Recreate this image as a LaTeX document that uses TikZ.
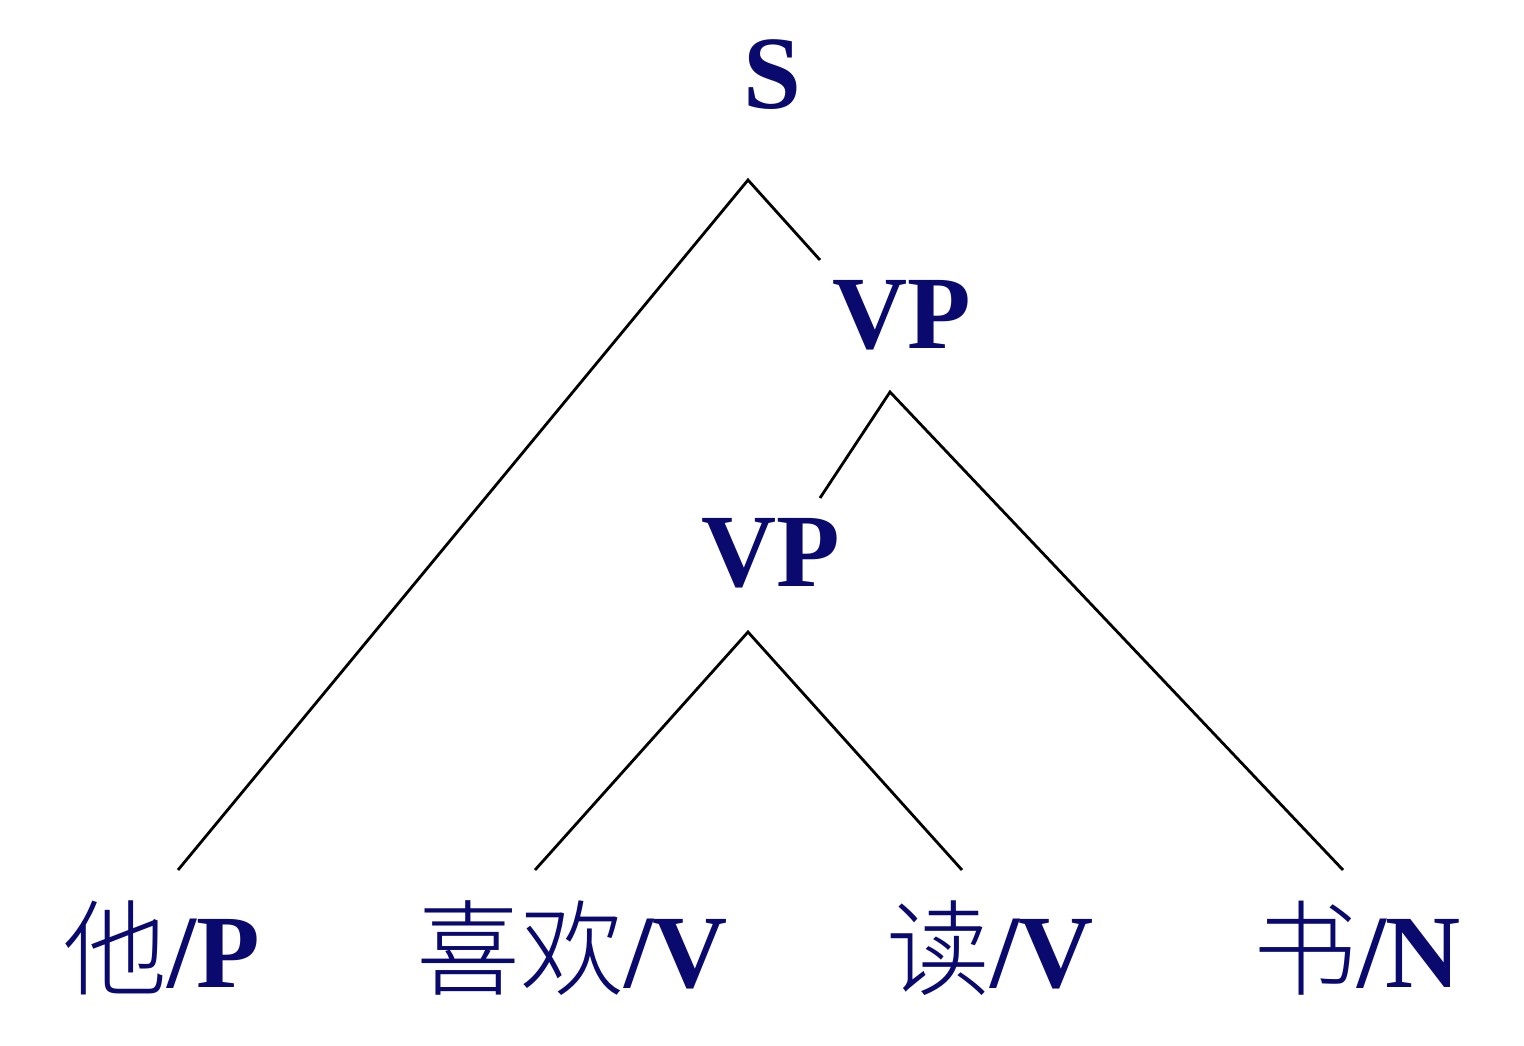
\documentclass[tikz,border=0pt]{standalone}
\usepackage{fontspec}
\setmainfont{Liberation Serif}
\newfontfamily\cjk{Noto Sans CJK SC Light}
\definecolor{navy}{RGB}{10,10,110}
\begin{document}
\begin{tikzpicture}[x=1pt,y=-1pt,
  lbl/.style={text=navy,font=\fontsize{104}{110}\selectfont\bfseries,inner sep=0pt,anchor=center},
  edge/.style={line width=2.8pt,black}]
\useasboundingbox (0,0) rectangle (1524,1046);
\node[lbl] (s) at (772,75) {S};
\node[lbl] (vp1) at (902,315) {VP};
\node[lbl] (vp2) at (771,553) {VP};
\node[lbl] (ta) at (162,948) {{\cjk\mdseries 他}/P};
\node[lbl] (xh) at (572,948) {{\cjk\mdseries 喜欢}/V};
\node[lbl] (du) at (990,948) {{\cjk\mdseries 读}/V};
\node[lbl] (sh) at (1357,948) {{\cjk\mdseries 书}/N};
\coordinate (s0) at (748,180);
\coordinate (v1t) at (820,260);
\coordinate (v1b) at (890,392);
\coordinate (v2t) at (820,498);
\coordinate (v2b) at (748,632);
\coordinate (tat) at (178,870);
\coordinate (xht) at (535,870);
\coordinate (dut) at (962,870);
\coordinate (sht) at (1343,870);
\draw[edge] (tat) -- (s0) -- (v1t);
\draw[edge] (v2t) -- (v1b) -- (sht);
\draw[edge] (xht) -- (v2b) -- (dut);
\end{tikzpicture}
\end{document}
